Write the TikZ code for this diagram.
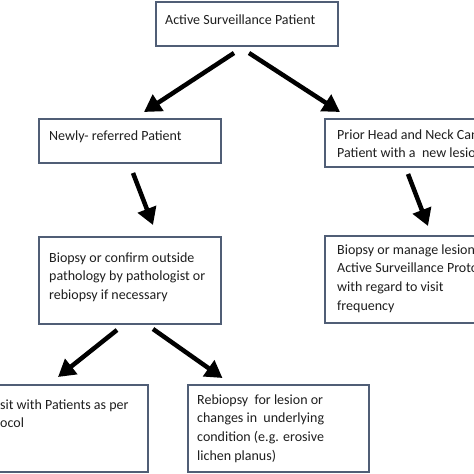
\documentclass[tikz,border=0pt]{standalone}
\usepackage{fontspec}
\setmainfont{Carlito}
\usetikzlibrary{arrows.meta,calc}
\definecolor{boxline}{RGB}{80,94,118}
\definecolor{ink}{RGB}{30,30,30}
\newcommand{\boxlines}[1]{\begin{tabular}[t]{@{}l@{}}#1\end{tabular}}
\begin{document}
\begin{tikzpicture}[x=1pt,y=-1pt,
  flowbox/.style={draw=boxline,line width=1.1pt,fill=white,rectangle,inner sep=0pt,outer sep=0pt,anchor=north west,minimum width=182pt},
  boxtext/.style={anchor=base west,inner sep=0pt,text=ink,font=\fontsize{14}{18.7}\selectfont},
  flowarrow/.style={-{Triangle[length=17pt,width=19pt]},line width=4.5pt,black}]
\useasboundingbox (0,0) rectangle (474,474);
\fill[white] (0,0) rectangle (474,474);
\clip (0,0) rectangle (474,474);
% boxes
\node[flowbox,minimum height=44pt] (top) at (156,2) {};
\node[flowbox,minimum height=44pt] (newly) at (39,119) {};
\node[flowbox,minimum height=48pt] (prior) at (325,119) {};
\node[flowbox,minimum height=87pt] (biopsyL) at (39,237) {};
\node[flowbox,minimum height=87pt] (biopsyR) at (325,236) {};
\node[flowbox,minimum height=87pt] (visit) at (-34,385) {};
\node[flowbox,minimum height=87pt,minimum width=181pt] (rebiopsy) at (188,385) {};
% texts
\node[boxtext] (ttop) at (165,24) {Active Surveillance Patient};
\node[boxtext] (tnewly) at (49,140) {Newly- referred Patient};
\node[boxtext] (tprior) at (337,139) {\boxlines{Prior Head and Neck Cancer\\Patient with a\ \ new lesion}};
\node[boxtext] (tbiopsyL) at (49,262) {\boxlines{Biopsy or confirm outside\\pathology by pathologist or\\rebiopsy if necessary}};
\node[boxtext] (tbiopsyR) at (337,254) {\boxlines{Biopsy or manage lesion per\\Active Surveillance Protocol\\with regard to visit\\frequency}};
\node[boxtext] (tvisit) at (0,409) {\boxlines{sit with Patients as per\\ocol}};
\node[boxtext] (trebiopsy) at (197,404) {\boxlines{Rebiopsy\ \ for lesion or\\changes in\ \ underlying\\condition (e.g. erosive\\lichen planus)}};
% arrows
\draw[flowarrow] ($(top.south)+(-13,7)$) -- ($(newly.north)+(14,-7)$);
\draw[flowarrow] ($(top.south)+(2,7)$) -- ($(prior.north)+(-76,-7)$);
\draw[flowarrow] ($(newly.south)+(3,10)$) -- ($(biopsyL.north)+(23,-12)$);
\draw[flowarrow] ($(prior.south)+(-8,7)$) -- ($(biopsyR.north)+(12,-10)$);
\draw[flowarrow] ($(biopsyL.south)+(-13,6)$) -- ($(visit.north)+(1,-8)$);
\draw[flowarrow] ($(biopsyL.south)+(23,5)$) -- ($(rebiopsy.north)+(-56,-7)$);
\end{tikzpicture}
\end{document}
